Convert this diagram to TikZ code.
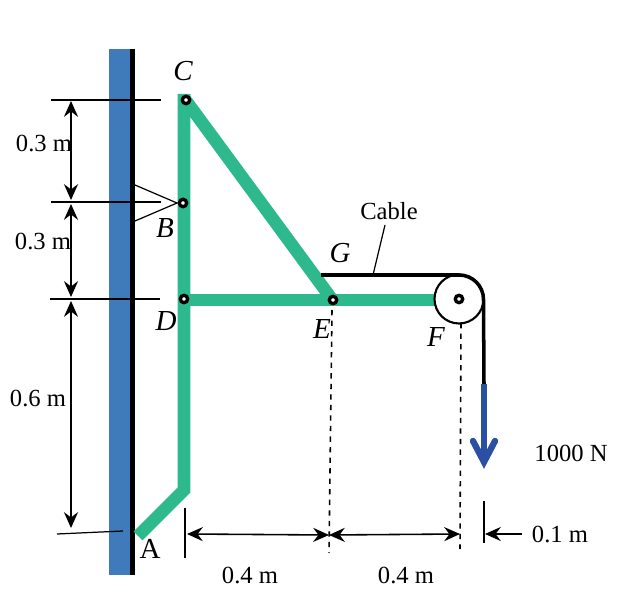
\documentclass[tikz,border=0pt]{standalone}
\usepackage{fontspec}
\setmainfont{Liberation Serif}
\usetikzlibrary{arrows.meta}
\definecolor{wallblue}{HTML}{3F7BBA}
\definecolor{membergreen}{HTML}{2DB98C}
\definecolor{loadblue}{HTML}{2A4FA3}
\tikzset{
  member/.style={membergreen, line width=7.2pt},
  hinge/.style={circle, draw=black, fill=white, line width=1.9pt, minimum size=4.2pt, inner sep=0pt, outer sep=0pt},
  cable/.style={line width=2pt},
  thinline/.style={line width=0.7pt},
  extline/.style={line width=0.9pt},
  dimline/.style={line width=0.9pt, {Stealth[length=9pt,width=8pt,inset=3pt]}-{Stealth[length=9pt,width=8pt,inset=3pt]}},
  dimend/.style={line width=0.9pt, -{Stealth[length=9pt,width=8pt,inset=3pt]}},
  lab/.style={inner sep=0pt, font=\fontsize{14}{16}\selectfont},
  ptlab/.style={inner sep=0pt, font=\fontsize{16.5}{18}\selectfont\itshape}
}
\begin{document}
\begin{tikzpicture}[x=0.02cm, y=-0.02cm]
  \useasboundingbox (0,0) rectangle (622,607);

  % wall
  \fill[wallblue] (109,49) rectangle (130,575);
  \fill[black] (130,49) rectangle (135,575);

  % frame
  \draw[member] (184,94) -- (184,490) -- (138,536);
  \draw[member] (184,98) -- (331,298);
  \draw[member] (184,300) -- (440,300);

  % cable and pulley
  \coordinate (G) at (321,275);
  \coordinate (Ftop) at (459,275);
  \coordinate (Tail) at (484,384);
  \draw[line width=1.2pt, fill=white] (459,299) circle[radius=0.49cm];
  \draw[cable] (G) -- (Ftop) arc[start angle=90, end angle=0, radius=0.49cm] -- (Tail);

  % pins
  \node[hinge] (C) at (186,100) {};
  \node[hinge] (B) at (183,203) {};
  \node[hinge] (D) at (184,299) {};
  \node[hinge] (E) at (333,300) {};
  \node[hinge] (F) at (459,299) {};

  % load
  \coordinate (Ltip) at (484,455);
  \draw[loadblue, line width=3.8pt] (Tail) -- (Ltip);
  \draw[loadblue, line width=3.6pt, line cap=round, line join=miter] (473,441) -- (484,462) -- (495,441);
  \fill[loadblue] (475,445) -- (484,462) -- (493,445) -- (484,454) -- cycle;

  % wall brace at B
  \coordinate (Bup) at (135,185);
  \coordinate (Blow) at (135,221);
  \coordinate (Bend) at (177,203);
  \draw[thinline] (Bup) -- (Bend) -- (Blow);

  % extension lines
  \foreach \name/\ya/\xa in {p/100/51, q/202/51, r/299/50} {
    \coordinate (\name1) at (\xa,\ya);
    \coordinate (\name2) at (\xa+110,\ya);
    \draw[extline] (\name1) -- (\name2);
  }
  \coordinate (s1) at (57,534);
  \coordinate (s2) at (123,531);
  \draw[thinline] (s1) -- (s2);

  % vertical dimensions
  \foreach \ya/\yb in {101/200, 204/297, 301/528} {
    \coordinate (top\ya) at (71,\ya);
    \coordinate (bot\ya) at (71,\yb);
    \draw[dimline] (top\ya) -- (bot\ya);
  }

  % bottom dimensions
  \coordinate (h1) at (185,508);
  \coordinate (h2) at (185,558);
  \draw[extline] (h1) -- (h2);
  \coordinate (k1) at (484,501);
  \coordinate (k2) at (484,543);
  \draw[thinline] (k1) -- (k2);
  \coordinate (m1) at (187,534);
  \coordinate (m2) at (329,535);
  \coordinate (m3) at (460,534);
  \draw[dimline] (m1) -- (m2);
  \draw[dimline] (m2) -- (m3);
  \coordinate (n1) at (522,534);
  \coordinate (n2) at (485,534);
  \draw[dimend] (n1) -- (n2);

  % dashed lines
  \coordinate (e1) at (332,310);
  \coordinate (e2) at (329,553);
  \coordinate (f1) at (461,323);
  \coordinate (f2) at (460,549);
  \draw[extline, dashed] (e1) -- (e2);
  \draw[extline, dashed] (f1) -- (f2);

  % cable leader
  \node[lab] (cablelab) at (389,211) {Cable};
  \coordinate (c1) at (385,225);
  \coordinate (c2) at (373,275);
  \draw[thinline] (c1) -- (c2);

  % labels
  \node[ptlab] (labC) at (183,71) {C};
  \node[ptlab] (labB) at (165,228) {B};
  \node[ptlab] (labD) at (166,321) {D};
  \node[ptlab] (labE) at (322,329) {E};
  \node[ptlab] (labF) at (436,337) {F};
  \node[ptlab] (labG) at (340,253) {G};
  \node[lab, font=\fontsize{16.5}{18}\selectfont] (labA) at (150,549) {A};
  \node[lab] (dimCB) at (44,144) {0.3 m};
  \node[lab] (dimBD) at (43,241) {0.3 m};
  \node[lab] (dimDA) at (38,398) {0.6 m};
  \node[lab] (dimDE) at (250,575) {0.4 m};
  \node[lab] (dimEF) at (406,575) {0.4 m};
  \node[lab] (dimR) at (560,534) {0.1 m};
  \node[lab] (load) at (571,453) {1000 N};
\end{tikzpicture}
\end{document}
